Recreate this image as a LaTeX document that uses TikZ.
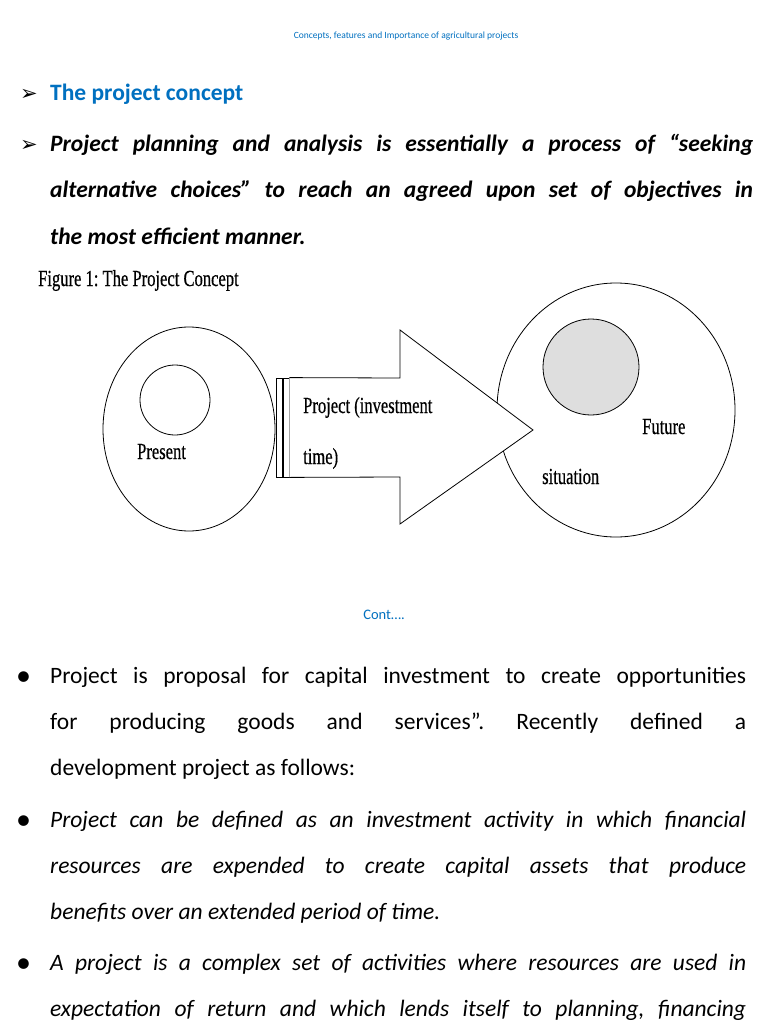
\documentclass[tikz,border=0pt]{standalone}
\usepackage{fontspec}
\setmainfont{Carlito}
\newfontfamily\symfont{DejaVu Sans}
\newfontfamily\figfont[FakeStretch=0.72,FakeBold=0.5]{Liberation Serif}
\usetikzlibrary{shapes.geometric}
\definecolor{hblue}{RGB}{0,112,192}
\frenchspacing
\begin{document}
\begin{tikzpicture}[x=1pt,y=-1pt,
  txt/.style={anchor=base west,inner sep=0pt,font=\fontsize{23.5}{26}\selectfont},
  fig/.style={anchor=base west,inner sep=0pt,font=\figfont\fontsize{23}{26}\selectfont},
  figline/.style={draw,line width=0.8pt}]
\useasboundingbox[fill=white] (0,0) rectangle (768,1024);
\node[inner sep=0pt,text=hblue,font=\fontsize{9.5}{11}\selectfont] (hdr) at (406,36) {Concepts, features and Importance of agricultural projects};
% arrow bullets
\node[txt,font=\symfont\bfseries\fontsize{21}{22}\selectfont] (b1) at (20,101) {➢};
\node[txt,text=hblue,font=\bfseries\fontsize{23.5}{26}\selectfont] (t1) at (50,101) {The project concept};
\node[txt,font=\symfont\bfseries\fontsize{21}{22}\selectfont] (b2) at (20,152) {➢};
\node[txt,font=\bfseries\itshape\fontsize{23.5}{26}\selectfont] (p1) at (50,152) {\makebox[703pt][s]{Project planning and analysis is essentially a process of “seeking}};
\node[txt,font=\bfseries\itshape\fontsize{23.5}{26}\selectfont] (p2) at (50,198) {\makebox[703pt][s]{alternative choices” to reach an agreed upon set of objectives in}};
\node[txt,font=\bfseries\itshape\fontsize{23.5}{26}\selectfont] (p3) at (50,244) {the most efficient manner.};
% figure
\node[fig] (cap) at (38,286) {Figure 1: The Project Concept};
\node[figline,ellipse,minimum width=172pt,minimum height=204pt,inner sep=0pt] (present) at (189,429) {};
\node[figline,circle,minimum size=70pt,inner sep=0pt] (pc) at (175,400) {};
\node[figline,ellipse,minimum width=238pt,minimum height=254pt,inner sep=0pt] (future) at (616,410) {};
\node[figline,circle,fill=black!13,minimum size=96pt,inner sep=0pt] (fc) at (591,367) {};
\node[figline,rectangle,minimum width=6pt,minimum height=99pt,inner sep=0pt] (bar1) at (279,427.5) {};
\node[figline,rectangle,minimum width=6pt,minimum height=99pt,inner sep=0pt] (bar2) at (286,427.5) {};
\draw[figline,fill=white] (bar2.north east) -- (400,378) -- (400,330) -- (533,430) -- (400,524) -- (400,477) -- (bar2.south east);
\node[fig] (pr) at (303,413) {Project (investment};
\node[fig] (tm) at (303,464) {time)};
\node[fig] (ps) at (137,459) {Present};
\node[fig] (fu) at (642,434) {Future};
\node[fig] (si) at (542,484) {situation};
\node[inner sep=0pt,text=hblue,font=\fontsize{14.5}{16}\selectfont] (cont) at (384,615) {Cont….};
% bullets
\foreach \y in {683,827,970} {\node[txt,font=\fontsize{30}{30}\selectfont] at (16,\y+2) {•};}
\node[txt] (q1) at (50,683) {\makebox[696pt][s]{Project is proposal for capital investment to create opportunities}};
\node[txt] (q2) at (50,729) {\makebox[696pt][s]{for producing goods and services”. Recently defined a}};
\node[txt] (q3) at (50,775) {development project as follows:};
\node[txt,font=\itshape\fontsize{23.5}{26}\selectfont] (r1) at (50,827) {\makebox[696pt][s]{Project can be defined as an investment activity in which financial}};
\node[txt,font=\itshape\fontsize{23.5}{26}\selectfont] (r2) at (50,873) {\makebox[696pt][s]{resources are expended to create capital assets that produce}};
\node[txt,font=\itshape\fontsize{23.5}{26}\selectfont] (r3) at (50,919) {benefits over an extended period of time.};
\node[txt,font=\itshape\fontsize{23.5}{26}\selectfont] (s1) at (50,970) {\makebox[696pt][s]{A project is a complex set of activities where resources are used in}};
\node[txt,font=\itshape\fontsize{23.5}{26}\selectfont] (s2) at (50,1016) {\makebox[696pt][s]{expectation of return and which lends itself to planning, financing}};
\end{tikzpicture}
\end{document}
